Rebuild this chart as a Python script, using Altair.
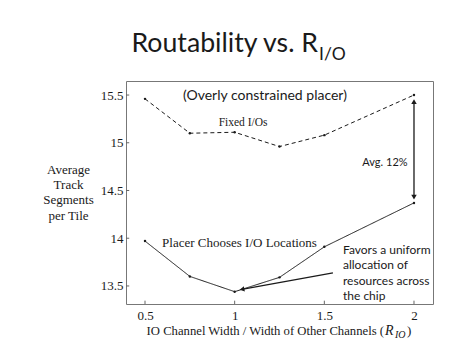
import altair as alt
import pandas as pd

x_vals = [0.5, 0.75, 1.0, 1.25, 1.5, 2.0]
fixed_ios = [15.46, 15.10, 15.11, 14.96, 15.08, 15.50]
placer_chooses = [13.97, 13.60, 13.44, 13.59, 13.91, 14.37]
y_ticks = [13.5, 14.0, 14.5, 15.0, 15.5]
x_ticks = [0.5, 1.0, 1.5, 2.0]

df = pd.DataFrame({
    "x": x_vals * 2,
    "y": fixed_ios + placer_chooses,
    "series": ["Fixed I/Os"] * 6 + ["Placer Chooses I/O Locations"] * 6,
})
XD = [0.394, 2.106]
YD = [13.311, 15.647]
xs = alt.Scale(domain=XD, nice=False, zero=False)
ys = alt.Scale(domain=YD, nice=False, zero=False)
SERIF = "Liberation Serif"
SANS = "Lato"
INK = "#1a1a1a"

xax = alt.Axis(values=x_ticks, tickSize=0, domain=False, grid=False, labelFont=SERIF,
               labelFontSize=13, labelColor=INK, labelPadding=5, title=None,
               labelExpr="datum.value == 1 || datum.value == 2 ? format(datum.value, 'd') : format(datum.value, '.1f')")
yax = alt.Axis(values=y_ticks, tickSize=0, domain=False, grid=False, labelFont=SERIF,
               labelFontSize=13, labelColor=INK, labelPadding=3,
               labelExpr="datum.value == 14 || datum.value == 15 ? format(datum.value, 'd') : format(datum.value, '.1f')",
               title=["Average", "Track", "Segments", "per Tile"], titleAngle=0,
               titleFont=SERIF, titleFontSize=13, titleFontWeight="normal", titleColor=INK,
               titleAlign="center", titleBaseline="top", titleX=-58, titleY=82, titleLineHeight=15.4)

base = alt.Chart(df)
lines = base.mark_line(color=INK, strokeWidth=1, point=alt.OverlayMarkDef(filled=True, size=6, color=INK)).encode(
    x=alt.X("x:Q", scale=xs, axis=xax),
    y=alt.Y("y:Q", scale=ys, axis=yax),
    strokeDash=alt.StrokeDash("series:N", scale=alt.Scale(domain=["Fixed I/Os", "Placer Chooses I/O Locations"],
                                                          range=[[4, 3], [1, 0]]), legend=None),
    detail="series:N",
)

ytick_df = pd.DataFrame({"v": y_ticks})
xtick_df = pd.DataFrame({"v": x_ticks})
yticks = alt.Chart(ytick_df).mark_rule(color="#666", strokeWidth=1).encode(
    y="v:Q", x=alt.datum(XD[0]), x2=alt.datum(XD[0] + 0.018))
xticks = alt.Chart(xtick_df).mark_rule(color="#666", strokeWidth=1).encode(
    x="v:Q", y=alt.datum(YD[0]), y2=alt.datum(YD[0] + 0.035))

def txt(s, x, y, font, size, align="center", style="normal", baseline="middle"):
    return alt.Chart().mark_text(text=s, font=font, fontSize=size, align=align, fontStyle=style,
                                 baseline=baseline, color=INK).encode(x=alt.datum(x), y=alt.datum(y))

def ptxt(s, x, y, font, size, align="center", style="normal", baseline="alphabetic"):
    return alt.Chart().mark_text(text=s, font=font, fontSize=size, align=align, fontStyle=style,
                                 baseline=baseline, color=INK, clip=False).encode(x=alt.value(x), y=alt.value(y))

ann = [
    txt("(Overly constrained placer)", 1.169, 15.49, SANS, 14),
    txt("Fixed I/Os", 1.047, 15.207, SERIF, 11.5),
    txt("Placer Chooses I/O Locations", 0.595, 13.95, SERIF, 13, align="left"),
    txt("Avg. 12%", 1.838, 14.79, SANS, 11),
    txt("Favors a uniform", 1.604, 13.88, SANS, 12, align="left"),
    txt("allocation of", 1.604, 13.72, SANS, 12, align="left"),
    txt("resources across", 1.604, 13.555, SANS, 12, align="left"),
    txt("the chip", 1.604, 13.40, SANS, 12, align="left"),
]

arrow_v = alt.Chart().mark_rule(color=INK, strokeWidth=1.3).encode(
    x=alt.datum(2.0), y=alt.datum(15.43), y2=alt.datum(14.44))
head_up = alt.Chart().mark_point(shape="triangle-up", filled=True, size=30, color=INK, opacity=1).encode(
    x=alt.datum(2.0), y=alt.datum(15.43))
head_dn = alt.Chart().mark_point(shape="triangle-down", filled=True, size=30, color=INK, opacity=1).encode(
    x=alt.datum(2.0), y=alt.datum(14.43))
arrow_s = alt.Chart().mark_rule(color=INK, strokeWidth=1.3).encode(
    x=alt.datum(1.548), y=alt.datum(13.636), x2=alt.datum(1.04), y2=alt.datum(13.465))
head_s = alt.Chart().mark_point(shape="triangle-left", filled=True, size=30, color=INK, opacity=1, angle=350).encode(
    x=alt.datum(1.041), y=alt.datum(13.465))

title_parts = [
    ptxt("Routability vs. R", 192, -29, SANS, 26.7, align="right"),
    ptxt("I/O", 193, -21, SANS, 17.5, align="left"),
    ptxt("IO Channel Width / Width of Other Channels (", 258, 254, SERIF, 12.7, align="right"),
    ptxt("R", 259, 254, SERIF, 14, align="left", style="italic"),
    ptxt("IO", 269, 257, SERIF, 10, align="left", style="italic"),
    ptxt(")", 281, 254, SERIF, 13, align="left"),
]

chart = alt.layer(lines, yticks, xticks, arrow_v, head_up, head_dn, arrow_s, head_s, *ann, *title_parts).properties(
    width=307, height=223,
    autosize=alt.AutoSizeParams(type="none"),
    padding={"left": 126, "top": 81, "right": 41, "bottom": 51},
    background="white",
).configure_view(stroke="#777", strokeWidth=1)

chart.save("out.html", embed_options={"renderer": "svg", "actions": False})
